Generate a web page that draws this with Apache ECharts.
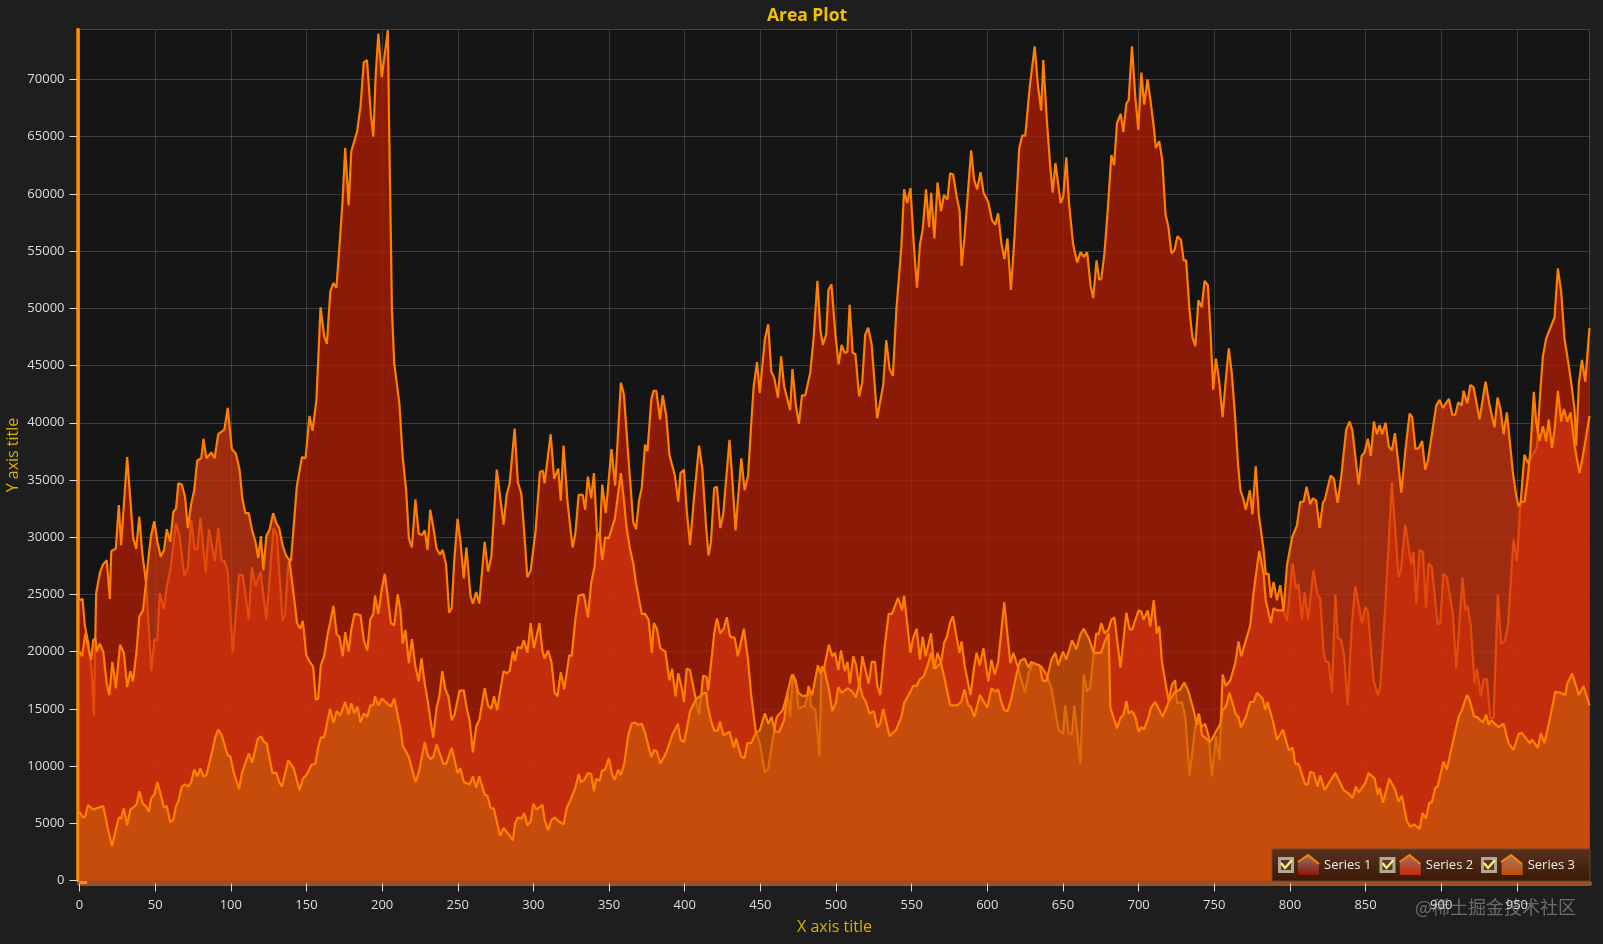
<!DOCTYPE html>
<html lang="en">
<head>
<meta charset="UTF-8">
<title>Area Plot</title>
<script src="https://cdn.jsdelivr.net/npm/echarts@6/dist/echarts.min.js"></script>
<style>
html,body{margin:0;padding:0;background:#1e1e1e;}
#main{width:1603px;height:944px;}
</style>
</head>
<body>
<div id="main"></div>
<script>
"use strict";

const seriesNames=["Series 1","Series 2","Series 3"];
const xTicks=[0,50,100,150,200,250,300,350,400,450,500,550,600,650,700,750,800,850,900,950];
const yTicks=[0,5000,10000,15000,20000,25000,30000,35000,40000,45000,50000,55000,60000,65000,70000];

// [x,y]
const series1=[[0,24500],[2,24600],[3.5,22300],[6,20600],[8,18400],[9.5,14400],[11,25100],[13.5,26900],[15.5,27600],[18,28000],[20,24600],[21,28800],[24,29000],[26,32800],[27.5,29300],[31.5,37000],[35.5,29900],[37.5,29000],[39.5,31800],[41.5,28600],[44,26000],[47.5,18300],[49.5,21100],[51.5,21000],[53,25100],[55.7,23700],[57.7,25700],[60,27100],[63.8,31200],[66,30200],[69.3,26600],[71.6,27300],[73.8,31500],[76,29000],[77.8,28900],[79.9,31700],[83.4,26900],[85.5,30700],[89.5,27900],[91.7,30800],[94,27900],[96,27900],[98,27000],[101.3,19900],[105.4,26700],[107.8,26700],[111.9,22800],[113.9,27400],[116.3,25700],[119.7,27000],[123.5,22800],[128.2,30800],[130.4,30200],[134.2,22700],[135.8,23200],[138,27700],[139.8,28000],[141,30000],[143.6,34400],[147,37000],[149.4,36900],[152,40600],[154,39300],[156.6,42000],[159.3,50100],[161.7,47600],[163.5,46900],[165.8,51500],[167.8,52200],[169.8,51800],[171.8,55400],[173.8,59200],[175.6,64000],[177.9,59000],[179.6,63700],[183.4,65400],[185.7,67600],[187.9,71500],[190,71700],[192.6,66900],[194.2,65000],[195.7,70200],[197.5,74000],[199.8,70200],[203.8,74300],[204.7,65300],[205.8,56000],[206.5,49800],[208,45200],[211.4,41700],[213.6,37000],[215.9,34100],[217.7,29900],[219.7,29100],[222,33300],[224.2,30300],[226.4,30200],[228.2,30600],[230,28900],[231.8,32400],[233.8,30900],[236,29000],[238.3,28500],[240,28900],[242.3,27600],[244.3,23400],[246,23800],[247.7,28000],[249.9,31600],[251.7,29700],[254,26400],[255.7,29100],[258.4,24900],[260,24200],[262.2,25200],[264.2,24200],[267.8,29600],[270,27000],[272.2,28300],[275.8,35900],[278,33500],[280.3,31100],[282.3,33700],[284.3,34700],[287.6,39500],[289.7,34800],[292,33800],[294,30300],[296,26500],[298.2,27100],[301.4,30500],[304.3,35700],[306.3,35800],[307.4,34700],[311.4,39000],[313.7,35100],[316.4,36000],[318.1,33200],[319.9,38000],[322.6,33000],[325.9,29100],[327.7,30300],[329.9,33700],[332.6,33700],[334.2,32400],[336,35300],[338.2,33400],[340,35600],[342,30500],[343.8,29800],[345.5,34600],[347.8,32100],[351.6,37700],[354,34500],[357.8,43500],[359.8,42500],[362.7,37100],[366,31300],[367.8,30700],[369.8,33200],[371.6,34300],[373.8,38100],[375.4,37500],[377.9,42000],[379.4,42800],[381.2,42800],[383.7,40300],[385.4,42400],[387.7,40700],[389.9,37200],[393.5,35400],[395.7,33100],[397.2,35600],[399.5,35900],[401.3,32400],[403.5,29300],[406.2,33500],[409.5,38000],[411.7,35900],[414,31200],[415.7,28400],[417.3,29500],[419.5,34300],[421.3,34400],[423.5,30800],[425.5,32100],[429.6,38500],[431.8,34400],[433.6,30600],[437.4,36900],[439.6,34100],[441.9,35400],[444,40000],[445.6,43200],[447.8,45300],[449.6,42600],[453,47300],[455.2,48600],[457.2,44500],[459.2,43900],[461.6,42200],[463.7,45800],[465.7,43200],[469.7,41100],[471.2,44700],[473.4,41600],[475.5,39900],[477.5,42400],[479.7,42400],[483,44400],[485.3,47600],[487.7,52400],[489.7,48100],[491.3,46800],[493.5,47700],[495,51600],[497,52100],[499.7,47600],[501.7,45100],[503.7,46800],[505.7,46100],[507.5,46200],[509,50300],[511,46100],[512.8,46000],[515.3,42300],[517.3,43500],[519.3,47700],[521.3,48300],[523.6,46800],[527.2,40400],[531.2,43300],[533.2,47200],[535.4,44700],[537.6,44100],[539.9,49900],[543.2,55400],[545,60400],[547,59200],[549.2,60500],[551.5,55400],[553.5,51800],[555.5,55600],[557.3,56900],[559.5,60400],[561.5,57100],[562.9,60100],[565,56100],[567.1,61000],[569.4,58500],[571.4,59900],[573.6,59500],[575.4,61800],[577.4,61700],[579.7,59800],[581.7,58500],[583,53700],[585,56300],[589.3,63800],[591.3,61200],[593.3,60400],[595.5,61900],[597.5,60100],[600.6,59300],[603.1,57700],[605.3,57300],[607.1,58300],[609.3,55700],[611.3,54300],[613.3,56100],[615.6,51600],[618,56300],[619.5,60100],[621.1,64000],[623.1,65100],[625.1,65100],[628,69300],[631.3,72900],[633.6,69300],[635.6,67300],[637,71700],[639.2,66700],[641.4,62700],[643.2,60100],[645,62700],[648.5,59200],[650.2,59800],[652.2,63200],[654,59200],[656.7,55600],[659.4,54000],[661.6,54900],[663.8,54500],[666,54900],[668.2,52000],[670,50900],[672.2,54200],[673.9,52500],[675.4,52600],[677.4,54800],[679.6,58600],[682,63400],[683.8,62500],[685.7,66200],[688.2,67000],[689.9,65400],[691.9,67900],[693.4,68200],[695.6,72900],[697.8,68500],[699.8,65600],[701.8,70600],[703.7,67800],[705.9,70000],[707.7,68300],[709.9,66000],[711.4,64000],[713.6,64600],[715.6,63000],[717.8,58200],[719.7,57100],[721.7,54800],[723.7,55100],[725.7,56300],[727.9,56000],[729.8,54200],[731.4,54200],[733.6,49900],[735.5,47500],[737.5,46700],[739.5,50700],[741.7,50100],[743.6,52400],[745.8,52000],[747.6,47700],[749.3,42900],[751.1,45600],[753.3,43600],[755.5,40500],[757.7,43900],[759.6,46500],[761.6,44300],[763.6,40800],[765.8,36200],[767.3,34100],[769.1,33400],[770.8,32400],[773.5,34100],[775.2,32000],[777.4,36200],[779.4,32000],[782.6,28900],[784,26800],[785.9,26800],[787.4,24700],[789.2,26100],[791.4,24500],[793.6,25800],[795.8,23600],[798,22700],[801.8,27700],[804,25500],[805.7,25900],[807.9,22800],[809.7,25200],[811.9,22800],[815.6,27100],[818.3,24900],[820,24700],[822.2,20000],[823.8,19100],[825.6,19100],[827.8,16400],[830,25000],[831.7,21200],[833.9,21000],[835.9,19600],[838.1,15300],[841,22500],[843.2,25700],[847.6,22500],[849.8,23900],[851.5,23500],[855.3,17500],[858.1,16200],[859.7,16900],[863,23900],[867.4,34800],[871.8,26500],[873.4,27100],[876.2,31100],[877.3,31200],[880.2,27600],[881.7,28700],[883.5,24200],[885.7,28900],[887.9,28700],[889.9,23800],[891.6,27700],[893.8,27400],[897.6,22400],[899.3,22500],[901.5,26800],[903.7,26500],[907.7,23300],[909.9,18500],[914.1,26500],[915.9,23600],[917.4,24000],[919.6,22200],[922,17200],[923.6,18500],[926.2,16100],[928,17600],[930.2,17600],[932.4,14200],[934.6,14200],[937.4,25000],[939.6,20700],[941.9,20900],[944.1,22200],[947.8,29800],[950.1,27900],[952.3,32700],[955,37200],[957.3,36500],[963.2,37800],[965.4,42600],[967.2,45800],[969.4,47400],[974.9,49200],[977.1,53500],[979.3,51400],[981.5,47300],[983.7,45500],[985.9,43500],[988.1,41200],[989.2,38000],[991,43500],[993,45500],[995.2,43600],[998,48300]];

const series2=[[0,20000],[1.8,19600],[3.8,21600],[6.7,19800],[7.8,19300],[9,21000],[10.5,21200],[11.4,20000],[13.4,20700],[15.7,20000],[18,17200],[19.7,16200],[21.7,19100],[24,16800],[26.8,20600],[29.3,19900],[31.5,16900],[33.6,18300],[35.3,17400],[37.6,19900],[39.6,23100],[42,23600],[44,26100],[45.9,28600],[47.4,30200],[49.4,31400],[51.5,29600],[53.7,28300],[55.9,28900],[57.7,30700],[60,29600],[62,32200],[63.8,32500],[65.3,34700],[67.6,34600],[69.8,33500],[71.6,30800],[73.8,32900],[75.8,34100],[77.8,36700],[80.5,36900],[81.9,38600],[83.9,36900],[87.2,37400],[89.3,36900],[91.7,39000],[95.7,39400],[98,41300],[100.7,37700],[103.4,37300],[105.8,35900],[107.6,33400],[109.6,32100],[111.9,32100],[114.1,30600],[116.3,29600],[118.1,28200],[119.9,30100],[121.5,27100],[123.5,30100],[125.7,30700],[128,32100],[130.2,31200],[132,30800],[134.2,29300],[136.5,28400],[138.7,28000],[140.3,26300],[142,24500],[143.8,22500],[145.9,22000],[147.6,22700],[149.9,19700],[152.1,19100],[154.4,18700],[156.2,15800],[157.7,15900],[159.5,18800],[161.7,19600],[164,21500],[165.6,22500],[167.8,24000],[170,21500],[171.8,21300],[174,19600],[175.6,21700],[177.9,20000],[179.6,21900],[181.7,23300],[185.7,23200],[187.9,21000],[190.2,20100],[192.2,22800],[194.2,23300],[195.3,24900],[197.5,23300],[199.8,25500],[201.8,26800],[203.8,24700],[205.8,22500],[208,22300],[210.3,25000],[212.1,23600],[213.6,20700],[215.4,21900],[217.7,19000],[219.7,21100],[222,18700],[224.2,17400],[226,19400],[228.2,17200],[230,15800],[232,14000],[233.8,12500],[236,15100],[237.8,16100],[239.8,18300],[241.8,16700],[243.8,16100],[246,14000],[247.9,14500],[251.2,16600],[254,16600],[255.7,15200],[257.9,13900],[260,11200],[262.2,13500],[264.2,14000],[267.8,16800],[270,15300],[272.2,15000],[274,16100],[276,14900],[278,16500],[280.3,18300],[282.3,18100],[284.3,18300],[286.4,20000],[287.9,19200],[289.7,20400],[292,20300],[293.7,21000],[296,19900],[298.2,22500],[300.3,20300],[304,22500],[305.9,20100],[307.4,19400],[309.7,20100],[311.9,19100],[314.1,16400],[315.9,16100],[318.1,18200],[320.4,16700],[323.7,19700],[325.3,19600],[327.7,22800],[329.9,24900],[333.3,25000],[336,23000],[338.2,26000],[340.4,27400],[342,30200],[343.8,30200],[345.5,28000],[347.5,30000],[349.8,29900],[353.8,31600],[357.8,35600],[360,33000],[361.6,30800],[363.8,29000],[366,27700],[367.8,26000],[371.6,23300],[373.8,23300],[376.1,22800],[378.3,19900],[379.6,22500],[381.6,22000],[383.9,20300],[387.2,20000],[389.9,17500],[391.7,18500],[393.9,16100],[395.7,18100],[397.9,16900],[399.5,15600],[401.3,18500],[403.5,18400],[405.7,16900],[409.5,14500],[412.2,17900],[414.4,17800],[415.5,16600],[419.5,21600],[421.3,22900],[423.5,21600],[425.8,22000],[427.8,23000],[430,21300],[433,21200],[435.1,19600],[439.1,22000],[441.8,19300],[444,16100],[447,13000],[449.6,12000],[453,9400],[455.2,9800],[458.5,12600],[460.8,14300],[464.8,14900],[467.9,16400],[469.7,14300],[471.5,18000],[473.5,17400],[475.2,15000],[479.7,15300],[482,17000],[483.5,15200],[486.4,14900],[489.1,10900],[490.4,18700],[492,18500],[495.3,20600],[497.5,19600],[499.3,19900],[501.5,18400],[503.3,20100],[505.8,18300],[507.6,19100],[509.1,17200],[511.4,19600],[513.1,18900],[515.4,16900],[517.4,19600],[521.6,17200],[523.6,19100],[525.8,19100],[527.2,17100],[529.2,16200],[532.1,20400],[534.8,23300],[537,23300],[541,24700],[543.7,23600],[545,24900],[547.2,22300],[549.2,19900],[551,21200],[553.3,22000],[555.5,19300],[557.3,21300],[559.3,19600],[562.8,21600],[565,18500],[567.1,19900],[569.3,19000],[571.5,20800],[573.3,21300],[575.5,22600],[577.3,23100],[579.6,21300],[581.6,19900],[583,20900],[585.1,18700],[588.9,16200],[591.1,18500],[592.9,19900],[595,18800],[597.4,20300],[600.7,17400],[602.7,19300],[604.9,18000],[607.2,19100],[611.2,24300],[615.2,19000],[617.2,19900],[620.1,18700],[624.9,16400],[627.3,18100],[630,19000],[635.7,18700],[639,18000],[642.4,16800],[647,13200],[650,12800],[651.5,15300],[653.7,12900],[656,12800],[657.5,15300],[661.5,10200],[663.7,18000],[665.9,16500],[668,16900],[670.3,19900],[672,21600],[673.6,21500],[675.3,22500],[677.5,21600],[680,21900],[682,22800],[684,23000],[688,18600],[691.9,23400],[694,22000],[695.6,21900],[700,23600],[701.8,23500],[703.3,22800],[706,23600],[707.7,22200],[710,24500],[712,21600],[713.7,22200],[715.4,19100],[719.8,15700],[722,17100],[724.2,17500],[725.3,15500],[728.6,15600],[730.8,14300],[733.7,9200],[737.4,13400],[739.6,14600],[741.4,13400],[744,13700],[746.3,12600],[748.5,9100],[751.1,12600],[753.5,10500],[755.5,18000],[757.7,17000],[760.6,17500],[763.9,19000],[766,20900],[767.8,19600],[773.8,22300],[776,25200],[779.7,28800],[782.6,26800],[784,24500],[787.4,22500],[789.2,23800],[791.4,23600],[795.8,23600],[798,27500],[801.5,30000],[804.6,31000],[806.8,33100],[809,33100],[811,34400],[813.4,32900],[815.2,33400],[817.4,33200],[819.6,30800],[821.8,33000],[823.1,33300],[826.9,35400],[829.1,35100],[831.5,33000],[833.9,35300],[837.2,39400],[839.4,40100],[841.2,39400],[845.4,34600],[847.4,37100],[849.3,37400],[851.5,38600],[853.5,37100],[855.5,40100],[857.5,39000],[859.3,39800],[861,39000],[863.2,40000],[865.4,37900],[867.4,37600],[869.4,39100],[871.6,36500],[873.6,33900],[876.4,37700],[879.1,40800],[880.8,40500],[883,37700],[885.2,37800],[887.4,38400],[889.4,35900],[891.2,36700],[896.7,41500],[898.9,42000],[901.1,41300],[905.1,42100],[907.3,40700],[909.3,40700],[911.3,41800],[913.5,41500],[914.8,42800],[917.2,41700],[919.2,43300],[921.4,43100],[925.3,40300],[929.3,43600],[932,41500],[935.2,39600],[937.2,42200],[939.2,41200],[941.2,39000],[943.4,40900],[947.4,35600],[949.6,33600],[951.1,32700],[952.9,33100],[955.1,33100],[957.3,35300],[959,37700],[961.2,42700],[962.8,40000],[965,38400],[967.2,39700],[969.4,38400],[971,40300],[973.2,37800],[974.9,39400],[977.1,42800],[979.3,40100],[981.1,41200],[983.3,40100],[985.5,40900],[988.1,38000],[991.4,35600],[993.6,37100],[995.4,38500],[998,40600]];

const series3=[[0,6000],[2.2,5500],[3.8,5600],[5.6,6600],[8.9,6200],[15.7,6500],[19,4400],[21.5,3000],[23.9,4400],[26,5500],[27.5,5400],[29.3,6300],[31.5,4800],[33.6,6200],[37.6,6600],[39.6,7800],[41.8,6700],[44,6500],[45.9,6000],[47.4,7200],[49.4,7500],[51.5,8600],[53.7,7500],[55.7,6400],[57.7,6500],[60,5100],[62,5300],[63.8,6500],[65.3,6900],[67.6,8200],[69.8,8400],[71.8,8200],[73.8,8600],[75.8,9700],[77.8,9100],[79.9,9800],[81.9,9100],[83.9,9200],[87.7,11300],[89.7,12500],[91.7,13200],[94,12700],[97.8,11000],[99.8,10800],[101.8,9500],[105.4,8000],[107.4,9400],[111.9,11100],[114.1,10300],[117.9,12400],[120.1,12600],[121.9,12100],[123.7,12000],[127.5,9400],[130.2,9400],[132,8600],[133.8,8200],[138,10500],[141.6,9800],[145.4,7900],[147.6,8900],[149.9,9200],[153.2,10100],[155.9,10200],[157.7,11600],[159.5,12500],[161.7,12500],[165.6,15000],[167.8,13800],[170,14800],[172.3,14400],[175.6,15600],[177.9,14500],[179.6,15500],[181.7,14600],[183.7,15200],[185.7,13800],[187.9,14600],[190.2,14300],[192.2,15300],[194.2,15300],[195.3,16100],[197.5,15300],[199.8,15900],[205.8,15200],[208,15900],[212.1,13300],[213.6,11800],[217.7,10800],[222,8600],[224.2,9400],[228.2,12100],[230,11000],[232,10600],[233.8,10800],[236,11900],[240.5,10200],[242.3,10200],[246,11600],[249.9,9400],[251.7,9800],[254,8600],[257.9,8400],[260,9100],[262.2,8100],[264.2,9100],[267.8,7500],[269.6,7400],[271.8,6300],[273.8,6300],[278,3900],[280.3,4600],[284.3,3900],[286.4,3500],[287.9,5000],[289.7,5500],[292,5400],[294,5900],[296,4800],[298.2,5200],[299.9,6700],[302,6200],[306,6600],[307.4,5300],[309.7,4400],[311.9,5300],[314.1,5500],[316.4,5200],[320,4900],[322.1,6400],[324.4,7000],[327.7,8100],[329.9,9300],[331.5,8600],[333.7,8800],[336,9400],[338.2,9300],[340,7800],[341.5,8900],[343.8,8700],[345.3,9600],[347.5,9700],[349.8,10700],[352.2,9200],[353.8,8800],[356,9700],[357.8,9200],[360,10200],[362.7,12700],[364.9,13700],[367.2,13800],[369.4,13600],[371.6,13700],[373.8,12900],[377.9,10800],[379.6,11400],[381.6,11300],[383.9,10200],[387.9,11200],[391.7,12700],[395.5,13700],[397.2,12300],[399.5,12100],[401.3,13200],[403.5,14800],[407.3,15800],[412.8,16400],[414.4,16400],[415.1,15300],[417.3,14000],[419.5,13100],[421.8,13100],[423.3,13900],[425.6,12700],[429.6,13000],[432.5,11600],[434,12400],[437.4,10800],[439.6,10700],[441.4,12000],[444,12000],[446.9,12900],[449.6,13100],[453,14600],[455.2,13700],[457.4,14300],[459.6,13000],[462.5,13000],[465.7,14000],[467.9,16400],[470.8,18000],[473,17500],[475.2,16400],[478.1,16100],[481.3,16200],[481.9,16900],[484.2,16200],[488,18800],[489.7,18100],[492,18600],[495.3,16700],[497.5,14800],[499.8,15500],[501.5,16900],[503.8,16400],[507.6,16800],[510.9,16500],[513.1,16000],[515.4,17200],[517.6,16100],[519.8,15600],[522,14600],[525,14800],[527.2,13400],[529.2,13700],[531.2,15000],[535.4,12600],[539.9,13200],[543.2,14300],[545,15500],[548.8,16400],[551,17000],[553.3,17000],[555.5,17600],[557.7,17800],[560.6,18800],[562.8,19900],[565,18500],[569.3,19000],[571.5,17800],[575.5,15300],[580,15300],[582.7,15600],[584.9,16700],[587.4,15300],[588.9,15200],[591.4,14300],[595.2,16200],[597.8,15600],[600,15100],[602.7,16800],[605.2,16500],[607.2,16700],[609.2,15600],[611.2,14900],[613.4,14800],[615.7,15800],[619.4,18100],[621.7,19200],[624.6,19400],[627.2,18600],[629,19100],[632.4,18900],[634.6,18800],[636.4,17500],[639,17400],[642.4,19300],[644.9,19900],[646.9,18800],[648.2,18700],[650,20000],[652.2,19300],[656,21000],[658.8,20200],[661.5,21500],[663.7,22000],[667,21200],[670.3,19900],[675.1,19900],[678,21000],[680.2,21600],[681.3,15100],[685.7,13300],[688,14200],[690.1,14500],[691.9,15700],[693.4,14600],[695.6,14800],[697.8,14300],[700,13000],[701.8,13400],[703.7,13200],[706.6,14300],[708.1,15100],[711,15600],[715.9,14300],[719.8,15600],[724.2,16500],[727.5,16700],[730.2,17300],[733,16500],[736.3,14900],[738.5,13600],[740.1,14500],[741.9,12700],[747.4,12100],[754,13700],[755.5,14900],[757.7,15200],[760,16400],[764.3,14500],[766,14300],[767.6,13400],[770.9,14300],[773.8,15600],[776,15600],[778.2,16400],[781.9,15900],[783.7,14900],[785.2,15600],[789.2,13700],[791.4,12300],[795.4,13200],[799.1,11400],[801.8,11600],[803.5,10200],[805.7,10200],[810.1,8400],[811.9,8400],[813.4,9500],[815.6,9400],[818.3,8200],[820,9200],[822.9,7900],[830,9400],[835.5,7900],[838.8,7600],[841.4,7200],[843.6,8200],[845.4,7700],[849.8,8500],[852,9400],[856,8900],[858.1,7500],[859.3,8100],[861.5,6800],[865.7,8900],[869.6,7900],[871.8,6900],[874,7400],[877.3,5200],[879.5,4700],[882.2,4900],[885.7,4500],[887.7,5900],[889.9,5400],[892.1,6800],[893.8,6800],[896,8100],[897.6,8200],[901.5,10400],[903.7,9700],[911.5,14300],[913.7,14900],[917,16200],[918.7,15800],[921.8,14300],[923.6,14300],[927.5,13800],[929.7,14500],[931.3,13600],[933,14000],[937.9,13400],[941.2,13700],[944.5,12000],[947.8,11400],[951.1,12800],[953.3,12900],[958.4,12000],[960,12300],[963.9,11600],[965.9,12900],[968.1,12000],[971,13600],[975.4,16500],[978.7,16400],[982,16200],[983.3,17200],[986.5,18100],[991,16200],[994,17000],[998,15300]];

const fills=["rgba(187,28,0,0.71)","rgba(217,53,14,0.71)","rgba(200,97,13,0.6)"];
const lineColor="#ff8000";
const fontName="'Open Sans','Noto Sans',sans-serif";

// each series gets its own z so its fill covers the lines of the ones before it
function areaSeries(name,data,fill,z)
{
	return {
		name:name,
		type:"line",
		z:z,
		data:data,
		showSymbol:false,
		symbol:"none",
		sampling:false,
		clip:true,
		lineStyle:{color:lineColor,width:2.2},
		itemStyle:{color:fill},
		areaStyle:{color:fill,opacity:1,origin:"start"}
	};
}

function gradient(top,bottom)
{return new echarts.graphic.LinearGradient(0,0,0,1,[{offset:0,color:top},{offset:1,color:bottom}]);}

// legend box, check boxes and orange roof of each icon
const legendLeft=1272,legendStep=101.5;
let chrome=[
	{type:"rect",z:50,shape:{x:legendLeft,y:849,width:318,height:32},
		style:{fill:gradient("#57331f","#3b1906"),stroke:"#6a4630",lineWidth:1}},
	{type:"rect",z:62,shape:{x:79,y:881,width:8,height:3},style:{fill:"#ff8c00"}}
];
for(let i=0; i<3; i++)
{
	let o=legendStep*i;
	chrome.push({type:"rect",z:62,shape:{x:1278+o,y:857,width:16,height:16},style:{fill:"#b3a698"}});
	chrome.push({type:"rect",z:63,shape:{x:1281+o,y:860,width:10,height:10},style:{fill:"#55381f"}});
	chrome.push({type:"polyline",z:64,shape:{points:[[1281+o,863],[1285+o,868],[1292+o,860]]},
		style:{fill:null,stroke:"#f7ec7e",lineWidth:2.4}});
	chrome.push({type:"polyline",z:64,shape:{points:[[1298+o,862],[1308+o,855],[1319+o,864]]},
		style:{fill:null,stroke:"#ff8000",lineWidth:2}});
}
chrome.push({type:"text",z:70,style:{x:1415,y:907,text:"@稀土掘金技术社区",fill:"rgba(215,215,215,0.42)",
	font:"18px 'Noto Sans CJK SC'",textVerticalAlign:"middle"}});

const legendFills=[gradient("#8f7568","#8b1a05"),gradient("#a3705e","#c22d0a"),gradient("#a37a5c","#c24c08")];
const roof="path://M0 7 L10 0 L21 9 L21 20 L0 20 Z";

let chart=echarts.init(document.getElementById("main"),null,{renderer:"canvas"});
chart.setOption({
	animation:false,
	backgroundColor:"#1e1e1e",
	title:{
		text:"Area Plot",left:802,top:2,textAlign:"center",
		textStyle:{color:"#f2c200",fontFamily:fontName,fontWeight:"bold",fontSize:17.5}
	},
	grid:{left:79.5,top:29.5,width:1510,height:851,show:true,backgroundColor:"#151515",borderColor:"#6b3a10",borderWidth:1,outerBoundsMode:"none"},
	legend:{
		show:true,left:1298,top:855,padding:0,itemWidth:21,itemHeight:20,itemGap:28.5,z:60,
		selectedMode:false,
		textStyle:{color:"#f0ece6",fontFamily:fontName,fontSize:13,padding:[6,0,0,0]},
		data:seriesNames.map((n,i)=>({name:n,icon:roof,itemStyle:{color:legendFills[i],borderWidth:0}}))
	},
	xAxis:{
		type:"value",min:0,max:998,interval:50,
		name:"X axis title",nameLocation:"middle",nameGap:36,nameMoveOverlap:false,
		nameTextStyle:{color:"#d9b000",fontFamily:fontName,fontSize:16},
		axisLine:{show:true,onZero:false,lineStyle:{color:"#9c5028",width:5}},
		offset:3,
		axisTick:{show:true,length:8,customValues:xTicks,lineStyle:{color:"#d8d8d8",width:1}},
		axisLabel:{color:"#dcdcdc",fontFamily:fontName,fontSize:13,margin:15,showMaxLabel:false,formatter:v=>String(v)},
		splitLine:{show:true,lineStyle:{color:"rgba(255,255,255,0.16)",width:1}}
	},
	yAxis:{
		type:"value",min:0,max:74367,interval:5000,
		name:"Y axis title",nameLocation:"middle",nameGap:56,nameRotate:90,nameMoveOverlap:false,
		nameTextStyle:{color:"#d9b000",fontFamily:fontName,fontSize:16},
		axisLine:{show:true,onZero:false,lineStyle:{color:"#ff8c00",width:3.5}},
		offset:2,
		axisTick:{show:true,length:8,customValues:yTicks,lineStyle:{color:"#d8d8d8",width:1}},
		axisLabel:{color:"#dcdcdc",fontFamily:fontName,fontSize:13,margin:13,showMaxLabel:false,formatter:v=>String(v)},
		splitLine:{show:true,lineStyle:{color:"rgba(255,255,255,0.16)",width:1}}
	},
	series:[
		areaSeries(seriesNames[0],series1,fills[0],2),
		areaSeries(seriesNames[1],series2,fills[1],3),
		areaSeries(seriesNames[2],series3,fills[2],4)
	],
	graphic:chrome
});
</script>
</body>
</html>
